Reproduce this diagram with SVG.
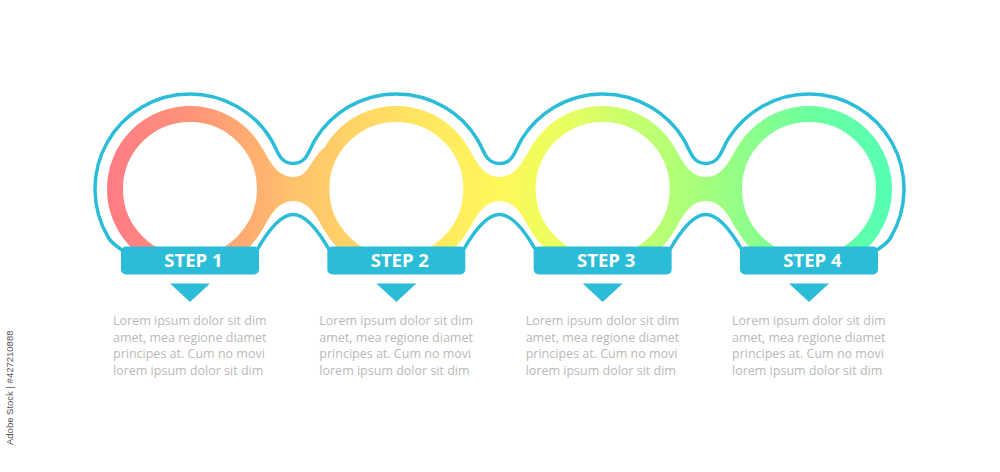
<svg xmlns="http://www.w3.org/2000/svg" width="1000" height="472" viewBox="0 0 1000 472">
<defs>
<linearGradient id="g" gradientUnits="userSpaceOnUse" x1="107" y1="0" x2="892" y2="0">
<stop offset="0" stop-color="#ff7b85"/>
<stop offset="0.106" stop-color="#ff9379"/>
<stop offset="0.208" stop-color="#ffb66e"/>
<stop offset="0.237" stop-color="#ffc26b"/>
<stop offset="0.368" stop-color="#ffe063"/>
<stop offset="0.5" stop-color="#fff75a"/>
<stop offset="0.577" stop-color="#eaff5e"/>
<stop offset="0.632" stop-color="#d4ff68"/>
<stop offset="0.763" stop-color="#a4ff7c"/>
<stop offset="0.894" stop-color="#6dff9f"/>
<stop offset="1" stop-color="#55ffb4"/>
</linearGradient>
<style>
.ring{fill:none;stroke:url(#g);stroke-width:16}
.neck{fill:url(#g)}
.outline{fill:none;stroke:#2bbdd7;stroke-width:3.5;stroke-linecap:round}
.box{fill:#2bbdd7}
.tri{fill:#2bbdd7}
.lbl{font-family:"Open Sans","Liberation Sans",sans-serif;font-weight:700;font-size:18.5px;fill:#ffffff;text-anchor:middle}
.body{font-family:"Open Sans","Liberation Sans",sans-serif;font-size:12.5px;fill:#b9b9b9}
.wm{font-family:"Liberation Sans",sans-serif;font-size:9.5px;fill:#555555}
</style>
</defs>
<rect width="1000" height="472" fill="#ffffff"/>
<g id="band">
<path class="neck" d="M261.9 147.5 C269.9 161.4 277.17 177 293.17 177 C309.17 177 308.43 161.4 324.43 147.5 L324.43 230.5 C316.43 216.6 309.17 201 293.17 201 C277.17 201 269.9 216.6 261.9 230.5 Z"/>
<path class="neck" d="M468.23 147.5 C476.23 161.4 483.5 177 499.5 177 C515.5 177 522.77 161.4 530.77 147.5 L530.77 230.5 C522.77 216.6 515.5 201 499.5 201 C483.5 201 476.23 216.6 468.23 230.5 Z"/>
<path class="neck" d="M674.57 147.5 C682.57 161.4 689.83 177 705.83 177 C721.83 177 729.1 161.4 737.1 147.5 L737.1 230.5 C729.1 216.6 721.83 201 705.83 201 C689.83 201 682.57 216.6 674.57 230.5 Z"/>
</g>
<g id="connectors">
<path class="outline" d="M122 250 Q111.7 243.1 108.6 238 A95 95 0 0 1 190 94 A95 95 0 0 1 270.6 138.7 C278 150.6 279.17 163.5 293.17 163.5 C307.17 163.5 308.33 150.6 315.73 138.7 A95 95 0 0 1 476.93 138.7 C484.33 150.6 485.5 163.5 499.5 163.5 C513.5 163.5 514.67 150.6 522.07 138.7 A95 95 0 0 1 683.27 138.7 C690.67 150.6 691.83 163.5 705.83 163.5 C719.83 163.5 721 150.6 728.4 138.7 A95 95 0 0 1 809 94 A95 95 0 0 1 890.4 238 Q887.3 243.1 877 250"/>
<path class="outline" d="M257 250 C265 236 279.17 214.5 293.17 214.5 C307.17 214.5 321.33 236 329.33 250"/>
<path class="outline" d="M463.33 250 C471.33 236 485.5 214.5 499.5 214.5 C513.5 214.5 527.67 236 535.67 250"/>
<path class="outline" d="M669.67 250 C677.67 236 691.83 214.5 705.83 214.5 C719.83 214.5 734 236 742 250"/>
</g>
<g id="step1">
<circle class="ring" cx="190" cy="189" r="75"/>
<rect class="box" x="121" y="246.5" width="138" height="28" rx="5"/>
<text class="lbl" x="193.5" y="267.2">STEP 1</text>
<polygon class="tri" points="170,283.5 210,283.5 190,302"/>
<text class="body" x="113" y="325">Lorem ipsum dolor sit dim</text>
<text class="body" x="113" y="341.7">amet, mea regione diamet</text>
<text class="body" x="113" y="358.3">principes at. Cum no movi</text>
<text class="body" x="113" y="375">lorem ipsum dolor sit dim</text>
</g>
<g id="step2">
<circle class="ring" cx="396.33" cy="189" r="75"/>
<rect class="box" x="327.33" y="246.5" width="138" height="28" rx="5"/>
<text class="lbl" x="399.83" y="267.2">STEP 2</text>
<polygon class="tri" points="376.33,283.5 416.33,283.5 396.33,302"/>
<text class="body" x="319.33" y="325">Lorem ipsum dolor sit dim</text>
<text class="body" x="319.33" y="341.7">amet, mea regione diamet</text>
<text class="body" x="319.33" y="358.3">principes at. Cum no movi</text>
<text class="body" x="319.33" y="375">lorem ipsum dolor sit dim</text>
</g>
<g id="step3">
<circle class="ring" cx="602.67" cy="189" r="75"/>
<rect class="box" x="533.67" y="246.5" width="138" height="28" rx="5"/>
<text class="lbl" x="606.17" y="267.2">STEP 3</text>
<polygon class="tri" points="582.67,283.5 622.67,283.5 602.67,302"/>
<text class="body" x="525.67" y="325">Lorem ipsum dolor sit dim</text>
<text class="body" x="525.67" y="341.7">amet, mea regione diamet</text>
<text class="body" x="525.67" y="358.3">principes at. Cum no movi</text>
<text class="body" x="525.67" y="375">lorem ipsum dolor sit dim</text>
</g>
<g id="step4">
<circle class="ring" cx="809" cy="189" r="75"/>
<rect class="box" x="740" y="246.5" width="138" height="28" rx="5"/>
<text class="lbl" x="812.5" y="267.2">STEP 4</text>
<polygon class="tri" points="789,283.5 829,283.5 809,302"/>
<text class="body" x="732" y="325">Lorem ipsum dolor sit dim</text>
<text class="body" x="732" y="341.7">amet, mea regione diamet</text>
<text class="body" x="732" y="358.3">principes at. Cum no movi</text>
<text class="body" x="732" y="375">lorem ipsum dolor sit dim</text>
</g>
<text class="wm" transform="translate(13,445) rotate(-90)">Adobe Stock | #427210888</text>
</svg>
